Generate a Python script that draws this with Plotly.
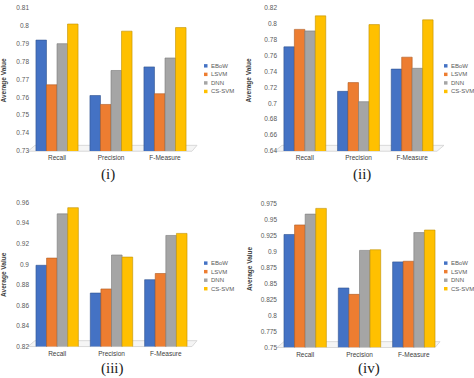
import plotly.graph_objects as go

W, H = 474, 378

CATEGORIES = ["Recall", "Precision", "F-Measure"]
SERIES = ["EBoW", "LSVM", "DNN", "CS-SVM"]
COLORS = ["#4472C4", "#ED7D31", "#A5A5A5", "#FFC000"]
EDGES = ["#2F528F", "#AE5A21", "#7B7B7B", "#BF9000"]

# values[panel][series] -> [Recall, Precision, F-Measure]
VALUES_I = {
    "EBoW": [0.792, 0.761, 0.777],
    "LSVM": [0.767, 0.756, 0.762],
    "DNN": [0.790, 0.775, 0.782],
    "CS-SVM": [0.801, 0.797, 0.799],
}
VALUES_II = {
    "EBoW": [0.771, 0.715, 0.743],
    "LSVM": [0.793, 0.726, 0.758],
    "DNN": [0.791, 0.702, 0.744],
    "CS-SVM": [0.810, 0.799, 0.805],
}
VALUES_III = {
    "EBoW": [0.899, 0.872, 0.885],
    "LSVM": [0.906, 0.876, 0.891],
    "DNN": [0.949, 0.909, 0.928],
    "CS-SVM": [0.955, 0.907, 0.930],
}
VALUES_IV = {
    "EBoW": [0.927, 0.843, 0.884],
    "LSVM": [0.942, 0.833, 0.885],
    "DNN": [0.959, 0.902, 0.930],
    "CS-SVM": [0.968, 0.903, 0.934],
}

TICKS_I = [0.73, 0.74, 0.75, 0.76, 0.77, 0.78, 0.79, 0.80, 0.81]
TICKTEXT_I = ["0.73", "0.74", "0.75", "0.76", "0.77", "0.78", "0.79", "0.8", "0.81"]
TICKS_II = [0.64, 0.66, 0.68, 0.70, 0.72, 0.74, 0.76, 0.78, 0.80, 0.82]
TICKTEXT_II = ["0.64", "0.66", "0.68", "0.7", "0.72", "0.74", "0.76", "0.78", "0.8", "0.82"]
TICKS_III = [0.82, 0.84, 0.86, 0.88, 0.90, 0.92, 0.94, 0.96]
TICKTEXT_III = ["0.82", "0.84", "0.86", "0.88", "0.9", "0.92", "0.94", "0.96"]
TICKS_IV = [0.75, 0.775, 0.80, 0.825, 0.85, 0.875, 0.90, 0.925, 0.95, 0.975]
TICKTEXT_IV = ["0.75", "0.775", "0.8", "0.825", "0.85", "0.875", "0.9", "0.925", "0.95", "0.975"]

CAPTIONS = ["(i)", "(ii)", "(iii)", "(iv)"]
Y_TITLE = "Average Value"


def px(x):
    return x / W


def py(y):
    return 1 - y / H


panels = [
    dict(vals=VALUES_I, ticks=TICKS_I, tt=TICKTEXT_I, x=(30, 192), y=(4, 149.7),
         floor=[(28, 150), (192, 150), (197, 144), (35, 144)],
         leg=(204, 63), ttl=(4, 78), cap=(108, 174)),
    dict(vals=VALUES_II, ticks=TICKS_II, tt=TICKTEXT_II, x=(278, 439), y=(4, 149.7),
         floor=[(275, 150), (437, 150), (444, 144), (282, 144)],
         leg=(444, 63), ttl=(249, 78), cap=(362, 174)),
    dict(vals=VALUES_III, ticks=TICKS_III, tt=TICKTEXT_III, x=(30, 193), y=(202.3, 349),
         floor=[(28, 349), (192, 349), (197, 343), (35, 343)],
         leg=(204, 264), ttl=(4, 276), cap=(112, 371)),
    dict(vals=VALUES_IV, ticks=TICKS_IV, tt=TICKTEXT_IV, x=(278, 441), y=(203.7, 349.7),
         floor=[(277, 350), (435, 350), (440, 344), (284, 344)],
         leg=(444, 264), ttl=(250, 270), cap=(369, 371)),
]

fig = go.Figure()
shapes = []
annotations = []
FONT = "Liberation Sans, Arial, sans-serif"
tick_font = dict(family=FONT, size=6.5, color="#595959")

for i, p in enumerate(panels):
    n = "" if i == 0 else str(i + 1)
    xa, ya = "x" + n, "y" + n
    for s, c, e in zip(SERIES, COLORS, EDGES):
        fig.add_trace(go.Bar(
            x=CATEGORIES, y=p["vals"][s], name=s, xaxis=xa, yaxis=ya,
            marker=dict(color=c, line=dict(color=e, width=0.6)),
            showlegend=False,
        ))
    fig.layout["xaxis" + n] = dict(
        domain=[px(p["x"][0]), px(p["x"][1])], anchor=ya,
        showgrid=False, showline=False, zeroline=False, ticks="",
        tickfont=dict(family=FONT, size=6.5, color="#404040"),
        ticklabelstandoff=2,
    )
    fig.layout["yaxis" + n] = dict(
        domain=[py(p["y"][1]), py(p["y"][0])], anchor=xa,
        range=[p["ticks"][0], p["ticks"][-1]],
        tickvals=p["ticks"], ticktext=p["tt"],
        showgrid=False, showline=False, zeroline=False, ticks="",
        tickfont=tick_font,
    )
    pts = p["floor"]
    path = "M " + " L ".join(f"{px(a):.5f},{py(b):.5f}" for a, b in pts) + " Z"
    shapes.append(dict(type="path", path=path, xref="paper", yref="paper",
                       fillcolor="#F5F5F5", line=dict(color="#D0D0D0", width=0.8),
                       layer="below"))
    lx, ly = p["leg"]
    for k, (s, c) in enumerate(zip(SERIES, COLORS)):
        yy = ly + k * 8.7
        shapes.append(dict(type="rect", xref="paper", yref="paper",
                           x0=px(lx), x1=px(lx + 3.5), y0=py(yy + 1.75), y1=py(yy - 1.75),
                           fillcolor=c, line=dict(width=0)))
        annotations.append(dict(text=s, xref="paper", yref="paper", x=px(lx + 4.5), y=py(yy),
                                xanchor="left", yanchor="middle", showarrow=False,
                                font=dict(family=FONT, size=6, color="#595959")))
    tx, ty = p["ttl"]
    annotations.append(dict(text="<b>" + Y_TITLE + "</b>", xref="paper", yref="paper",
                            x=px(tx), y=py(ty), xanchor="center", yanchor="middle",
                            textangle=-90, showarrow=False,
                            font=dict(family=FONT, size=6.5, color="#404040")))
    cx, cy = p["cap"]
    annotations.append(dict(text=CAPTIONS[i], xref="paper", yref="paper",
                            x=px(cx), y=py(cy), xanchor="center", yanchor="middle",
                            showarrow=False,
                            font=dict(family="Liberation Serif, Times New Roman, serif",
                                      size=15, color="#222222")))

fig.update_layout(
    width=W, height=H, margin=dict(l=0, r=0, t=0, b=0),
    paper_bgcolor="white", plot_bgcolor="rgba(0,0,0,0)",
    barmode="group", bargap=0.22, bargroupgap=0.0,
    shapes=shapes, annotations=annotations, showlegend=False,
)

fig.write_html("out.html", config={"displayModeBar": False},
               post_script="document.body.style.margin='0';")
